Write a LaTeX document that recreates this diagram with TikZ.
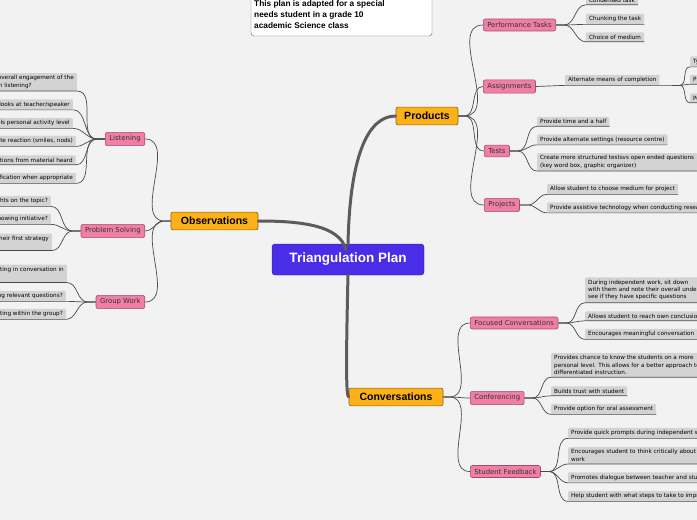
\documentclass[tikz,border=0pt]{standalone}
\usepackage{fontspec}
\setmainfont{Liberation Sans}
\newfontfamily\dv{DejaVu Sans}
\definecolor{bg}{HTML}{F2F2F2}
\definecolor{lg}{HTML}{D3D3D3}
\definecolor{ln}{HTML}{4A4A4A}
\definecolor{pk}{HTML}{F07FA6}
\definecolor{pkd}{HTML}{A84A6E}
\definecolor{og}{HTML}{FBB117}
\definecolor{ogd}{HTML}{8A6410}
\definecolor{bl}{HTML}{4A2DE6}
\begin{document}
\begin{tikzpicture}[x=1pt,y=-1pt,
 leaf/.style={fill=lg,font=\dv\fontsize{5.7}{7.4}\selectfont,inner xsep=3pt,inner ysep=2.4pt,align=left,rounded corners=1pt},
 pinkbox/.style={fill=pk,draw=pkd,line width=0.6pt,rounded corners=2pt,font=\dv\fontsize{6.9}{8}\selectfont,text=black!80,inner xsep=4pt,inner ysep=3.3pt},
 mainbox/.style={fill=og,draw=ogd,line width=0.6pt,rounded corners=2pt,font=\bfseries\fontsize{10.5}{12}\selectfont,inner xsep=4pt,inner ysep=5pt},
 conn/.style={draw=ln,line width=0.7pt},
 thick conn/.style={draw=ln!90,line width=3pt,line cap=round}]
\newcommand\rleaf[5]{\node[leaf,anchor=west] (#1) at (#3,#4) {#5};
 \draw[conn] (#2) -- ++(8,0) to[out=0,in=180] (#1.south west) -- (#1.south east);}
\newcommand\lleaf[5]{\node[leaf,anchor=east] (#1) at (#3,#4) {#5};
 \draw[conn] (#2) -- ++(-8,0) to[out=180,in=0] (#1.south east) -- (#1.south west);}
\clip (0,0) rectangle (697,520);
\fill[bg] (0,0) rectangle (697,520);
% note
\draw[draw=black!60,fill=white,rounded corners=3pt] (251,-5) rectangle (432,36);
\node[anchor=north west,align=left,inner sep=0pt,font=\bfseries\fontsize{8.3}{11}\selectfont] (note) at (254,0) {This plan is adapted for a special\\needs student in a grade 10\\academic Science class};
% centre
\node[fill=bl,draw=bl!60!black,rounded corners=3pt,minimum width=152,minimum height=31,text=white,font=\bfseries\fontsize{13.5}{15}\selectfont] (c) at (348,259.5) {Triangulation Plan};
\node[mainbox,minimum width=62] (prod) at (427,116) {Products};
\node[mainbox,minimum width=87] (obs) at (214.5,221) {Observations};
\node[mainbox,minimum width=94] (conv) at (396,397) {Conversations};
\draw[thick conn] (348,244) .. controls (350,150) and (370,116) .. (prod.west);
\draw[thick conn] (348,275) .. controls (346,360) and (346,397) .. (conv.west);
\draw[thick conn] (obs.east) .. controls (300,221) and (340,225) .. (346,250);
% products children
\node[pinkbox,anchor=west] (pt) at (483,25) {Performance Tasks};
\node[pinkbox,anchor=west] (as) at (483,86.5) {Assignments};
\node[pinkbox,anchor=west] (te) at (484,151) {Tests};
\node[pinkbox,anchor=west] (pj) at (484,205) {Projects};
\foreach \n in {pt,as,te,pj} \draw[conn] (prod.east) -- ++(6,0) to[out=0,in=180] (\n.west);
\rleaf{l1}{pt.east}{586}{0}{Condensed task}
\rleaf{l2}{pt.east}{586}{19}{Chunking the task}
\rleaf{l3}{pt.east}{586}{37}{Choice of medium}
\node[leaf,anchor=west] (alt) at (565,80) {Alternate means of completion};
\draw[conn] (as.east) -- (alt.south west) -- (alt.south east) -- ++(12,0) coordinate (altf);
\rleaf{a1}{altf}{690}{61.5}{Typed}
\rleaf{a2}{altf}{690}{79.5}{Presentation}
\rleaf{a3}{altf}{690}{98}{Poster}
\rleaf{t1}{te.east}{537}{121.5}{Provide time and a half}
\rleaf{t2}{te.east}{537}{139.5}{Provide alternate settings (resource centre)}
\rleaf{t3}{te.east}{537}{162}{Create more structured testsvs open ended questions\\(key word box, graphic organizer)}
\rleaf{p1}{pj.east}{547}{189}{Allow student to choose medium for project}
\rleaf{p2}{pj.east}{547}{207.5}{Provide assistive technology when conducting research}
% conversations children
\node[pinkbox,anchor=west] (fc) at (470,323) {Focused Conversations};
\node[pinkbox,anchor=west] (cf) at (470,398) {Conferencing};
\node[pinkbox,anchor=west] (sf) at (470,471.5) {Student Feedback};
\foreach \n in {fc,cf,sf} \draw[conn] (conv.east) -- ++(6,0) to[out=0,in=180] (\n.west);
\rleaf{f1}{fc.east}{585}{290}{During independent work, sit down\\with them and note their overall understanding to\\see if they have specific questions}
\rleaf{f2}{fc.east}{585}{316}{Allows student to reach own conclusions}
\rleaf{f3}{fc.east}{585}{334}{Encourages meaningful conversation}
\rleaf{c1}{cf.east}{551}{365}{Provides chance to know the students on a more\\personal level. This allows for a better approach to\\differentiated instruction.}
\rleaf{c2}{cf.east}{551}{391}{Builds trust with student}
\rleaf{c3}{cf.east}{551}{409}{Provide option for oral assessment}
\rleaf{s1}{sf.east}{568}{433}{Provide quick prompts during independent work}
\rleaf{s2}{sf.east}{568}{455.5}{Encourages student to think critically about their\\work}
\rleaf{s3}{sf.east}{568}{477.5}{Promotes dialogue between teacher and student}
\rleaf{s4}{sf.east}{568}{496}{Help student with what steps to take to improve}
% observations children
\node[pinkbox,anchor=east] (li) at (145,139) {Listening};
\node[pinkbox,anchor=east] (ps) at (145,231) {Problem Solving};
\node[pinkbox,anchor=east] (gw) at (145,302) {Group Work};
\foreach \n in {li,ps,gw} \draw[conn] (obs.west) -- ++(-6,0) to[out=180,in=0] (\n.east);
\lleaf{o1}{li.west}{77}{82}{What is the overall engagement of the\\student when listening?}
\lleaf{o2}{li.west}{73}{104.5}{Student looks at teacher/speaker}
\lleaf{o3}{li.west}{73}{123}{Student controls personal activity level}
\lleaf{o4}{li.west}{76}{141}{Student shows appropriate reaction (smiles, nods)}
\lleaf{o5}{li.west}{76}{160}{Student makes connections from material heard}
\lleaf{o6}{li.west}{76}{178}{Student asks for clarification when appropriate}
\lleaf{q1}{ps.west}{51}{201}{Does the student share thoughts on the topic?}
\lleaf{q2}{ps.west}{51}{219}{Is the student showing initiative?}
\lleaf{q3}{ps.west}{52}{242}{Does the student have a backup plan if their first strategy\\fails?}
\lleaf{g1}{gw.west}{67}{273.5}{Is the student participating in conversation in\\the group setting?}
\lleaf{g2}{gw.west}{66}{296}{Is the student asking relevant questions?}
\lleaf{g3}{gw.west}{66}{314}{Is the student contributing within the group?}
\end{tikzpicture}
\end{document}
